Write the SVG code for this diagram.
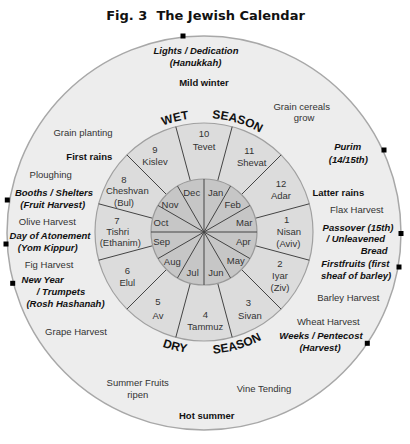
<svg xmlns="http://www.w3.org/2000/svg" width="410" height="444" viewBox="0 0 410 444">
<style>
.t{font-family:"Liberation Sans",Arial,sans-serif;font-size:9.5px;fill:#333;text-anchor:middle}
.b{font-weight:bold;fill:#111}
.bi{font-weight:bold;font-style:italic;fill:#111}
.m{fill:#333}
.s{font-family:"Liberation Sans",Arial,sans-serif;font-size:12px;font-weight:bold;fill:#111}
.sp{stroke:#444;stroke-width:1}
.mk{fill:#000}
</style>
<defs>
<path id="topArc" d="M155.82 128.68 A114 114 0 0 1 277.28 144.67" fill="none"/>
<path id="botArc" d="M152.44 342.57 A122 122 0 0 0 273.98 331.94" fill="none"/>
</defs>
<rect width="410" height="444" fill="#fff"/>
<text x="205.5" y="19.5" style="font-family:'DejaVu Sans',Verdana,sans-serif;font-size:13px;font-weight:bold;fill:#111;text-anchor:middle" xml:space="preserve">Fig. 3  The Jewish Calendar</text>

<g id="outer-ring">
<circle cx="204" cy="233" r="197" fill="#ededed" stroke="#a8a8a8" stroke-width="1.5"/>
</g>
<g id="hebrew-ring">
<circle cx="204" cy="232" r="109" fill="#dcdcdc" stroke="#a0a0a0" stroke-width="1.2"/>
</g>
<g id="connectors">
<g class="sp">
<line x1="190.3" y1="180.8" x2="175.8" y2="126.7"/>
<line x1="217.7" y1="180.8" x2="232.2" y2="126.7"/>
<line x1="241.5" y1="194.5" x2="281.1" y2="154.9"/>
<line x1="255.2" y1="218.3" x2="309.3" y2="203.8"/>
<line x1="255.2" y1="245.7" x2="309.3" y2="260.2"/>
<line x1="241.5" y1="269.5" x2="281.1" y2="309.1"/>
<line x1="217.7" y1="283.2" x2="232.2" y2="337.3"/>
<line x1="190.3" y1="283.2" x2="175.8" y2="337.3"/>
<line x1="166.5" y1="269.5" x2="126.9" y2="309.1"/>
<line x1="152.8" y1="245.7" x2="98.7" y2="260.2"/>
<line x1="152.8" y1="218.3" x2="98.7" y2="203.8"/>
<line x1="166.5" y1="194.5" x2="126.9" y2="154.9"/>
</g>
</g>
<g id="month-disc">
<circle cx="204" cy="232" r="53" fill="#c6c6c6" stroke="#999" stroke-width="1.2"/>
<g class="sp">
<line x1="204" y1="179" x2="204" y2="285"/>
<line x1="151" y1="232" x2="257" y2="232"/>
<line x1="230.5" y1="186.1" x2="177.5" y2="277.9"/>
<line x1="249.9" y1="205.5" x2="158.1" y2="258.5"/>
<line x1="249.9" y1="258.5" x2="158.1" y2="205.5"/>
<line x1="230.5" y1="277.9" x2="177.5" y2="186.1"/>
</g>
<g class="t m">
<text x="191.7" y="195.8">Dec</text>
<text x="215.7" y="195.8">Jan</text>
<text x="170" y="207.8">Nov</text>
<text x="232.7" y="207.8">Feb</text>
<text x="161" y="226.2">Oct</text>
<text x="244.3" y="226.2">Mar</text>
<text x="161.7" y="245.2">Sep</text>
<text x="243.3" y="244.8">Apr</text>
<text x="172.3" y="264.5">Aug</text>
<text x="235.7" y="264">May</text>
<text x="192.7" y="275.8">Jul</text>
<text x="216" y="275.8">Jun</text>
</g>
</g>

<g id="hebrew-months" class="t m">
<g id="m10"><text x="204" y="136.5">10</text><text x="204" y="149.5">Tevet</text></g>
<g id="m11"><text x="249.3" y="153.5">11</text><text x="251.7" y="166">Shevat</text></g>
<g id="m12"><text x="281" y="186.5">12</text><text x="281" y="199">Adar</text></g>
<g id="m1"><text x="286.7" y="222.5">1</text><text x="289" y="235">Nisan</text><text x="288.3" y="247">(Aviv)</text></g>
<g id="m2"><text x="280" y="266.5">2</text><text x="280" y="279">Iyar</text><text x="280" y="290.5">(Ziv)</text></g>
<g id="m3"><text x="248.3" y="305.5">3</text><text x="250" y="318.5">Sivan</text></g>
<g id="m4"><text x="205.3" y="318">4</text><text x="205.3" y="329.8">Tammuz</text></g>
<g id="m5"><text x="158" y="305">5</text><text x="158" y="318.5">Av</text></g>
<g id="m6"><text x="127.3" y="274">6</text><text x="127.3" y="286">Elul</text></g>
<g id="m7"><text x="117" y="223.5">7</text><text x="117.7" y="234.5">Tishri</text><text x="120.3" y="246">(Ethanim)</text></g>
<g id="m8"><text x="124" y="182.5">8</text><text x="127.3" y="194">Cheshvan</text><text x="124" y="206">(Bul)</text></g>
<g id="m9"><text x="155" y="152.5">9</text><text x="155" y="165">Kislev</text></g>
</g>

<g id="seasons">
<text class="s"><textPath href="#topArc" startOffset="8">WET</textPath></text>
<text class="s"><textPath href="#topArc" startOffset="57.7">SEASON</textPath></text>
<text class="s"><textPath href="#botArc" startOffset="10.6">DRY</textPath></text>
<text class="s"><textPath href="#botArc" startOffset="62.5">SEASON</textPath></text>
</g>

<g id="labels" class="t">
<g id="hanukkah" class="bi"><text x="196" y="54.2">Lights / Dedication</text><text x="195.5" y="66">(Hanukkah)</text></g>
<text id="mild-winter" class="b" x="204" y="86">Mild winter</text>
<g id="grain-cereals"><text x="301.7" y="110">Grain cereals</text><text x="304" y="121">grow</text></g>
<text id="grain-planting" x="83" y="136">Grain planting</text>
<text id="first-rains" class="b" x="89.3" y="160">First rains</text>
<text id="ploughing" x="50.7" y="177.5">Ploughing</text>
<g id="booths" class="bi"><text x="54" y="196">Booths / Shelters</text><text x="52.7" y="207.5">(Fruit Harvest)</text></g>
<text id="olive" x="47.3" y="224.5">Olive Harvest</text>
<g id="atonement" class="bi"><text x="50" y="239">Day of Atonement</text><text x="47.7" y="250.5">(Yom Kippur)</text></g>
<text id="fig" x="49" y="267.5">Fig Harvest</text>
<g id="new-year" class="bi"><text x="42.7" y="282.5">New Year</text><text x="61" y="294.5">/ Trumpets</text><text x="65.5" y="307">(Rosh Hashanah)</text></g>
<text id="grape" x="76" y="335">Grape Harvest</text>
<g id="summer-fruits"><text x="137.7" y="385.5">Summer Fruits</text><text x="137.7" y="397.5">ripen</text></g>
<text id="hot-summer" class="b" x="206.7" y="419">Hot summer</text>
<text id="vine" x="264" y="391.5">Vine Tending</text>
<text id="wheat" x="328.3" y="325">Wheat Harvest</text>
<g id="weeks" class="bi"><text x="321" y="338.5">Weeks / Pentecost</text><text x="320" y="350.5">(Harvest)</text></g>
<text id="barley" x="348.3" y="300.5">Barley Harvest</text>
<g id="purim" class="bi"><text x="347.7" y="150">Purim</text><text x="348.3" y="162.5">(14/15th)</text></g>
<text id="latter-rains" class="b" x="338.3" y="195.5">Latter rains</text>
<text id="flax" x="356.7" y="212.5">Flax Harvest</text>
<g id="passover" class="bi"><text x="358" y="230.5">Passover (15th)</text><text x="355.8" y="242">/ Unleavened</text><text x="387.7" y="254" style="text-anchor:end">Bread</text></g>
<g id="firstfruits" class="bi"><text x="355.3" y="266.5">Firstfruits (first</text><text x="356" y="279">sheaf of barley)</text></g>
</g>

<g id="markers" class="mk">
<rect x="180.5" y="33.5" width="5" height="5"/>
<rect x="381.5" y="147.5" width="5" height="5"/>
<rect x="398.5" y="231" width="5" height="5"/>
<rect x="396.5" y="264.5" width="5" height="5"/>
<rect x="364.8" y="340.8" width="5" height="5"/>
<rect x="4.8" y="197.5" width="5" height="5"/>
<rect x="3.5" y="241.5" width="5" height="5"/>
<rect x="10.2" y="280.8" width="5" height="5"/>
</g>
</svg>
